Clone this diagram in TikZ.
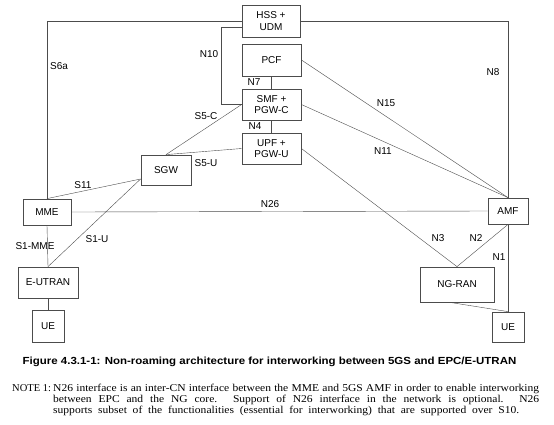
\documentclass[tikz,border=0pt]{standalone}
\usepackage{graphicx}
\usepackage{fontspec}
\setmainfont{Liberation Serif}
\setsansfont{Liberation Sans}
\begin{document}
\begin{tikzpicture}[x=1pt,y=-1pt,
  nf/.style={draw=black!70,thick,inner sep=0pt,align=center,font=\sffamily\fontsize{10}{11.5}\selectfont},
  lab/.style={inner sep=0pt,font=\sffamily\fontsize{10}{11}\selectfont},
  link/.style={draw=black!70,thin},
  noteline/.style={inner sep=0pt,anchor=base west,font=\fontsize{10.5}{11}\selectfont}]
\useasboundingbox (0,0) rectangle (554,424);

\node[nf,minimum width=58pt,minimum height=32pt] (hss) at (271,21) {HSS +\\UDM};
\node[nf,minimum width=59pt,minimum height=32pt] (pcf) at (271.5,60) {PCF};
\node[nf,minimum width=59pt,minimum height=31pt] (smf) at (271.5,104.5) {SMF +\\PGW-C};
\node[nf,minimum width=59pt,minimum height=31pt] (upf) at (271.5,148.5) {UPF +\\PGW-U};
\node[nf,minimum width=50pt,minimum height=30pt] (sgw) at (166,170) {SGW};
\node[nf,minimum width=48pt,minimum height=26pt] (mme) at (47,212) {MME};
\node[nf,minimum width=60pt,minimum height=31pt] (eutran) at (48,282.5) {E-UTRAN};
\node[nf,minimum width=32pt,minimum height=32pt] (uel) at (48,326) {UE};
\node[nf,minimum width=40pt,minimum height=26pt] (amf) at (508,211) {AMF};
\node[nf,minimum width=74pt,minimum height=35pt] (ngran) at (457,284.5) {NG-RAN};
\node[nf,minimum width=32pt,minimum height=30pt] (uer) at (508,327) {UE};

\coordinate (sgwl) at ([yshift=-9pt]sgw.west);
\coordinate (hssl) at ([yshift=-6pt]hss.west);
\coordinate (n10c) at (221,27);

% EPC side
\draw[link] (hss.west) -| (mme.north);
\draw[link] (hssl) -- (n10c) |- (smf.west);
\draw[link] (pcf.south) -- (smf.north);
\draw[link] (smf.south) -- (upf.north);
\draw[link] (smf.west) -- (sgw.north);
\draw[link] (upf.west) -- (sgw.north);
\draw[link] (sgwl) -- (mme.north);
\draw[link] (sgwl) -- (eutran.north);
\draw[link] (mme.south) -- (eutran.north);
\draw[link] (eutran.south) -- (uel.north);
\draw[link] (mme.east) -- (amf.west);

% 5GS side
\draw[link] (hss.east) -| (amf.north);
\draw[link] (pcf.east) -- (amf.north);
\draw[link] (smf.east) -- (amf.north);
\draw[link] (upf.east) -- (ngran.north);
\draw[link] (amf.south) -- (ngran.north);
\draw[link] (amf.south) -- (uer.north);
\draw[link] ([xshift=-7pt]ngran.south) -- (uer.north);

\node[lab] (s6a) at (59,66) {S6a};
\node[lab] (n8) at (493,72) {N8};
\node[lab] (n10) at (209,54) {N10};
\node[lab] (n7) at (254,82) {N7};
\node[lab] (n4) at (255,126) {N4};
\node[lab] (s5c) at (206,116) {S5-C};
\node[lab] (s5u) at (206,163) {S5-U};
\node[lab] (s11) at (83,185) {S11};
\node[lab] (s1u) at (97,239) {S1-U};
\node[lab] (s1mme) at (35,246) {S1-MME};
\node[lab] (n26) at (270,204) {N26};
\node[lab] (n15) at (386,103) {N15};
\node[lab] (n11) at (383,151) {N11};
\node[lab] (n3) at (438,238) {N3};
\node[lab] (n2) at (476,238) {N2};
\node[lab] (n1) at (499,257) {N1};

\node[inner sep=0pt,anchor=base,font=\sffamily\bfseries\fontsize{10.3}{12}\selectfont] (caption) at (269.5,364.5)
  {\scalebox{1.115}[1]{Figure 4.3.1-1: Non-roaming architecture for interworking between 5GS and EPC/E-UTRAN}};
\node[noteline] (notehead) at (12,391.5) {NOTE 1:};
\node[noteline] (note1) at (53,391.5)
  {\scalebox{1.1}[1]{\makebox[441.8pt][s]{N26 interface is an inter-CN interface between the MME and 5GS AMF in order to enable interworking}}};
\node[noteline] (note2) at (53,402.5)
  {\scalebox{1.1}[1]{\makebox[441.8pt][s]{between EPC and the NG core. Support of N26 interface in the network is optional. N26}}};
\node[noteline] (note3) at (53,413.5)
  {\scalebox{1.1}[1]{\makebox[423.6pt][s]{supports subset of the functionalities (essential for interworking) that are supported over S10.}}};
\end{tikzpicture}
\end{document}
